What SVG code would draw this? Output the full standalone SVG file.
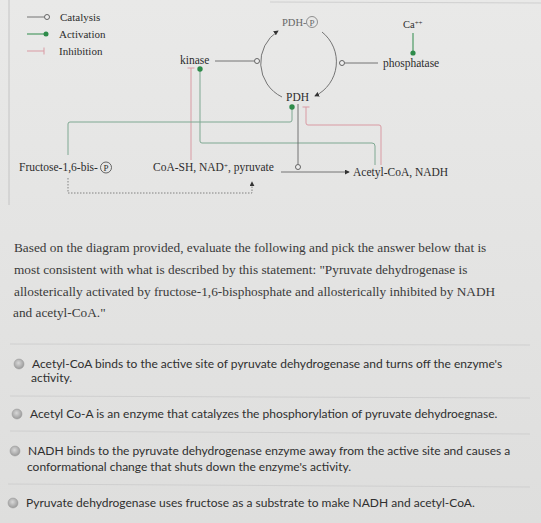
<svg xmlns="http://www.w3.org/2000/svg" width="541" height="523" viewBox="0 0 541 523">
<defs>
<linearGradient id="bg" x1="0" y1="0" x2="0" y2="1">
<stop offset="0" stop-color="#e9e9e8"/>
<stop offset="1" stop-color="#dededd"/>
</linearGradient>
<radialGradient id="radio" cx="0.45" cy="0.4" r="0.6">
<stop offset="0" stop-color="#d8d8d8"/>
<stop offset="1" stop-color="#9a9a9a"/>
</radialGradient>
<marker id="arr" viewBox="0 0 6 6" refX="5" refY="3" markerWidth="5" markerHeight="5" orient="auto" markerUnits="userSpaceOnUse">
<path d="M0,0 L6,3 L0,6 z" fill="#333"/>
</marker>
</defs>
<style>
.lbl{font-family:"Liberation Serif","Times New Roman",serif;font-size:11.5px;fill:#2d2d2d}
.leg{font-family:"Liberation Serif","Times New Roman",serif;font-size:11px;fill:#2d2d2d}
.para{font-family:"Liberation Serif","Times New Roman",serif;font-size:13.3px;fill:#3a3a3a}
.opt{font-family:Lato,"Open Sans",sans-serif;font-size:12px;fill:#2f2f2f}
.cat{stroke:#666;stroke-width:0.9;fill:none}
.act{stroke:#7fa892;stroke-width:1;fill:none}
.inh{stroke:#d99aa3;stroke-width:1;fill:none}
.dot{fill:#2e8b4a}
.oc{fill:#eee;stroke:#555;stroke-width:0.9}
.sep{stroke:#cfcfcf;stroke-width:1}
.radio{fill:url(#radio);stroke:#999;stroke-width:0.5}
</style>
<rect width="541" height="523" fill="url(#bg)"/>
<line x1="9" y1="0" x2="9" y2="205" stroke="#c4c4c4" stroke-width="1"/>
<line x1="270" y1="2" x2="541" y2="3" stroke="#cfcfcf" stroke-width="1"/>

<g id="legend">
<line x1="27" y1="17" x2="44" y2="17" class="cat"/>
<circle cx="47" cy="17" r="2.5" class="oc"/>
<text x="60" y="21" class="leg">Catalysis</text>
<line x1="27" y1="34" x2="44" y2="34" stroke="#2e8b4a" stroke-width="1"/>
<circle cx="46" cy="34" r="2.5" class="dot"/>
<text x="59" y="38" class="leg">Activation</text>
<line x1="27" y1="51" x2="44" y2="51" class="inh"/>
<line x1="44" y1="47.5" x2="44" y2="54.5" class="inh"/>
<text x="59" y="55" class="leg">Inhibition</text>
</g>

<g id="connectors">
<path d="M282,97 A38,38 0 0 1 278,31" class="cat" marker-end="url(#arr)"/>
<path d="M322,32 A38,38 0 0 1 315,96" class="cat" marker-end="url(#arr)"/>
<line x1="215" y1="61" x2="254" y2="61" class="cat"/>
<circle cx="257" cy="61" r="2.5" class="oc"/>
<line x1="345" y1="63" x2="378" y2="63" class="cat"/>
<circle cx="342" cy="63" r="2.5" class="oc"/>
<line x1="413" y1="33" x2="413" y2="52" stroke="#2e8b4a" stroke-width="1"/>
<circle cx="413" cy="53" r="2.6" class="dot"/>
<line x1="191" y1="68" x2="191" y2="160" class="inh"/>
<line x1="187.5" y1="68" x2="194.5" y2="68" class="inh"/>
<path d="M200,70 V141 Q200,143 202,143 H372 Q375,143 375,146 V165" class="act"/>
<circle cx="200" cy="69" r="2.7" class="dot"/>
<path d="M68,155 V124 Q68,122 70,122 H290 Q292,122 292,120 V108" class="act"/>
<circle cx="292" cy="107" r="2.7" class="dot"/>
<path d="M381,165 V127 Q381,125 379,125 H308 Q306,125 306,123 V107" class="inh"/>
<line x1="302.5" y1="107" x2="309.5" y2="107" class="inh"/>
<line x1="298" y1="104" x2="298" y2="164" class="cat"/>
<circle cx="298" cy="167" r="2.5" class="oc"/>
<line x1="281" y1="172" x2="349" y2="172" class="cat" marker-end="url(#arr)"/>
<path d="M68,178 V193 H252 V182" fill="none" stroke="#777" stroke-width="0.9" stroke-dasharray="1.5,1.5" marker-end="url(#arr)"/>
</g>

<g id="pdh-p">
<text x="282" y="26" class="lbl" style="fill:#666;font-size:10.5px">PDH-</text>
<circle cx="312" cy="22" r="5.5" fill="none" stroke="#777" stroke-width="0.8"/>
<text x="312" y="25.5" class="lbl" text-anchor="middle" style="font-size:9px;fill:#666">P</text>
</g>
<g id="pdh"><text x="286" y="101" class="lbl">PDH</text></g>
<g id="kinase"><text x="180" y="64" class="lbl">kinase</text></g>
<g id="phosphatase"><text x="383" y="67" class="lbl">phosphatase</text></g>
<g id="ca"><text x="403" y="28" class="lbl" style="font-size:10.5px">Ca<tspan dy="-3" style="font-size:7px">++</tspan></text></g>
<g id="fructose">
<text x="19" y="171" class="lbl">Fructose-1,6-bis-</text>
<circle cx="106" cy="167.5" r="5.5" fill="none" stroke="#444" stroke-width="0.8"/>
<text x="106" y="171" class="lbl" text-anchor="middle" style="font-size:9px">P</text>
</g>
<g id="substrates"><text x="153" y="171" class="lbl">CoA-SH, NAD<tspan dy="-3" style="font-size:7px">+</tspan><tspan dy="3">, pyruvate</tspan></text></g>
<g id="products"><text x="353" y="176" class="lbl">Acetyl-CoA, NADH</text></g>

<g id="question">
<text x="14" y="252" class="para">Based on the diagram provided, evaluate the following and pick the answer below that is</text>
<text x="14" y="274" class="para">most consistent with what is described by this statement: "Pyruvate dehydrogenase is</text>
<text x="14" y="296" class="para">allosterically activated by fructose-1,6-bisphosphate and allosterically inhibited by NADH</text>
<text x="13" y="317" class="para">and acetyl-CoA."</text>
</g>

<g id="options">
<line x1="10" y1="344" x2="530" y2="345" class="sep"/>
<circle cx="19" cy="364" r="5" class="radio"/>
<text x="32" y="368" class="opt">Acetyl-CoA binds to the active site of pyruvate dehydrogenase and turns off the enzyme's</text>
<text x="31" y="382" class="opt">activity.</text>
<line x1="10" y1="396" x2="530" y2="398" class="sep"/>
<circle cx="17" cy="414" r="5" class="radio"/>
<text x="30" y="418" class="opt">Acetyl Co-A is an enzyme that catalyzes the phosphorylation of pyruvate dehydroegnase.</text>
<line x1="10" y1="431" x2="530" y2="434" class="sep"/>
<circle cx="15" cy="451" r="5" class="radio"/>
<text x="28" y="455" class="opt">NADH binds to the pyruvate dehydrogenase enzyme away from the active site and causes a</text>
<text x="27" y="471" class="opt">conformational change that shuts down the enzyme's activity.</text>
<line x1="8" y1="484" x2="530" y2="487" class="sep"/>
<circle cx="13" cy="503" r="5" class="radio"/>
<text x="26" y="507" class="opt">Pyruvate dehydrogenase uses fructose as a substrate to make NADH and acetyl-CoA.</text>
</g>
</svg>
